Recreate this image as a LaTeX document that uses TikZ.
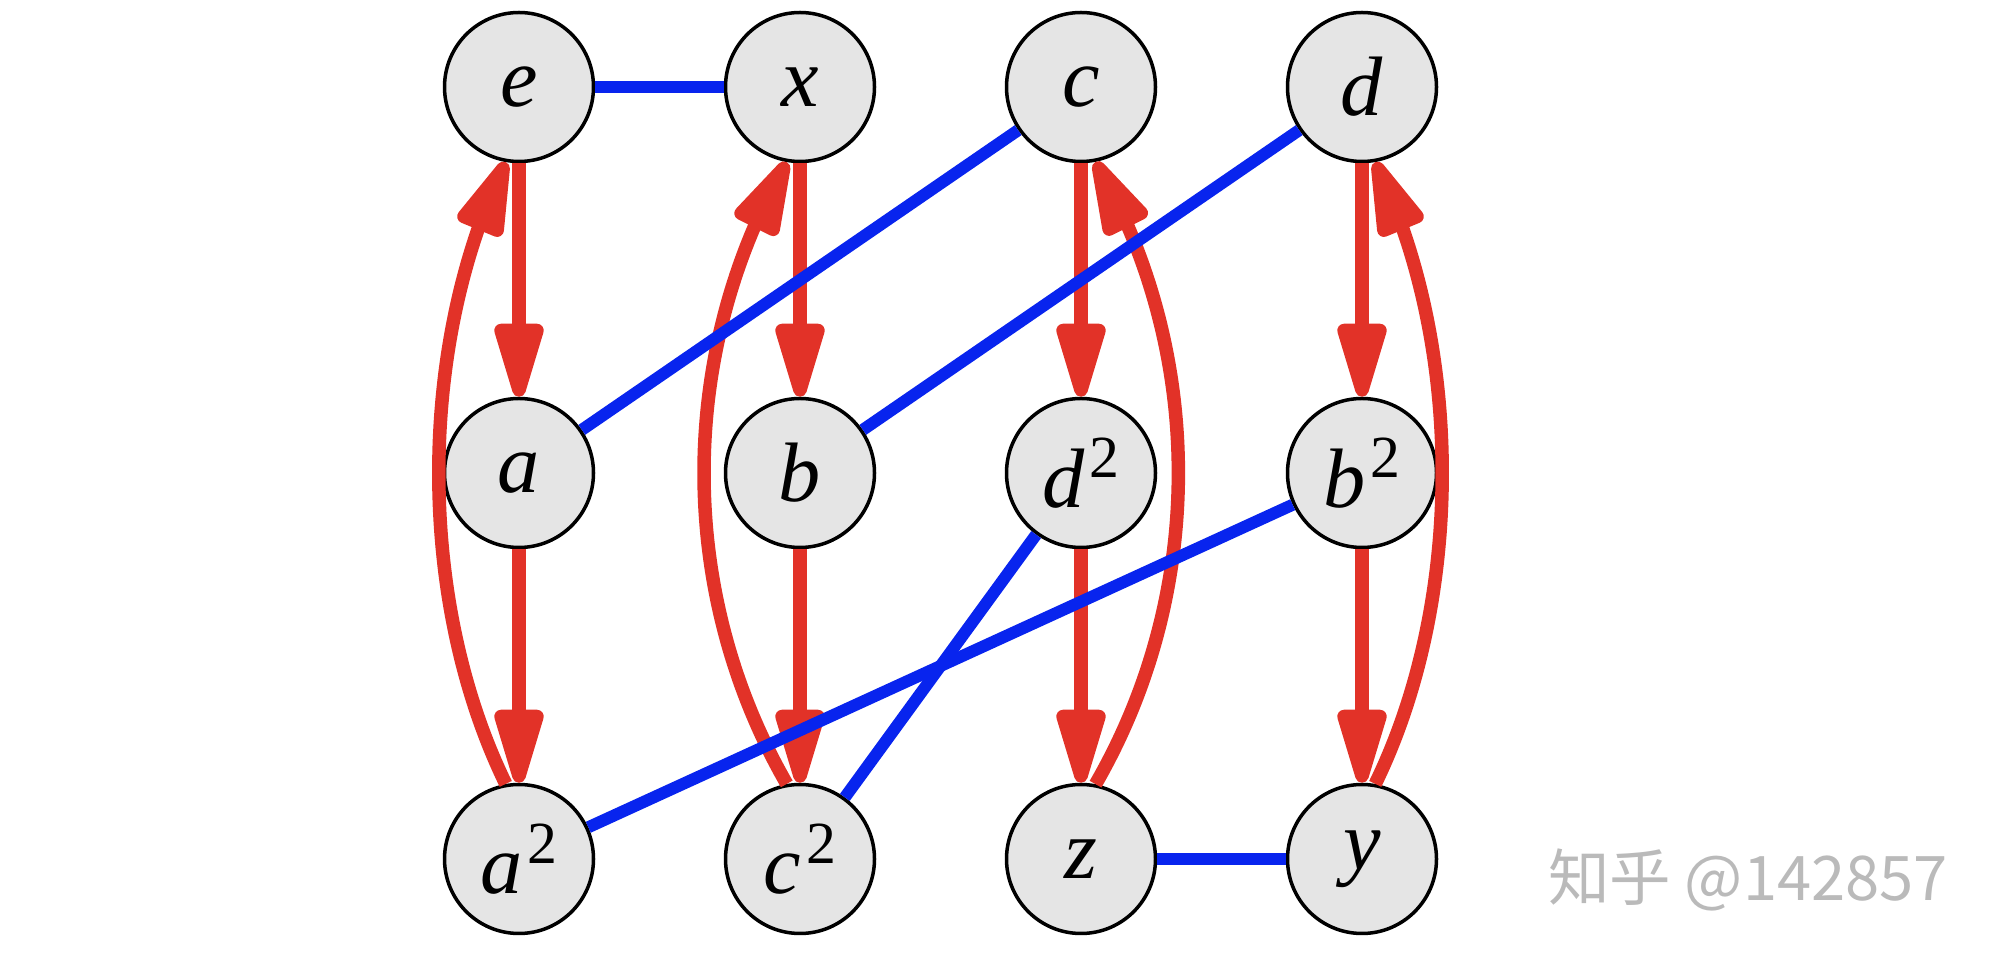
\documentclass[tikz,border=0pt]{standalone}
\usepackage{fontspec}
\setmainfont{Liberation Serif}
\newfontfamily\cjkfont{Noto Sans CJK SC}
\usetikzlibrary{arrows.meta, bending}

\definecolor{edgered}{RGB}{226,50,40}
\definecolor{edgeblue}{RGB}{8,36,238}
\definecolor{markgray}{RGB}{186,186,186}

% letter with a raised square
\newcommand{\sqv}[1]{\textit{#1}\kern1.5pt\raisebox{0.30cm}{\fontsize{17}{17}\selectfont 2}}

\begin{document}
\begin{tikzpicture}[
  vertex/.style={draw, circle, line width=0.035cm, fill=gray!20, minimum size=1.49cm, inner sep=0pt, font=\fontsize{24}{28}\selectfont},
  arrowR/.style={edgered, line width=0.135cm, -{Triangle[length=0.92cm, width=0.5cm, round, flex]}},
  lineB/.style={edgeblue, line width=0.12cm},
  wmark/.style={text=markgray, font=\cjkfont\fontsize{17.5}{20}\selectfont}
]
\useasboundingbox (0,0) rectangle (19.94,-9.62);

% top row
\node[vertex] (e) at (5.19,-0.87) {\textit{e}};
\node[vertex] (x) at (8.00,-0.87) {\textit{x}};
\node[vertex] (c) at (10.81,-0.87) {\textit{c}};
\node[vertex] (d) at (13.62,-0.87) {\textit{d}};

% middle row
\node[vertex] (a) at (5.19,-4.73) {\textit{a}};
\node[vertex] (b) at (8.00,-4.73) {\textit{b}};
\node[vertex] (d2) at (10.81,-4.73) {\sqv{d}};
\node[vertex] (b2) at (13.62,-4.73) {\sqv{b}};

% bottom row
\node[vertex] (a2) at (5.19,-8.59) {\sqv{a}};
\node[vertex] (c2) at (8.00,-8.59) {\sqv{c}};
\node[vertex] (z) at (10.81,-8.59) {\textit{z}};
\node[vertex] (y) at (13.62,-8.59) {\textit{y}};

% downward arrows
\draw[arrowR] (e) -- (a);
\draw[arrowR] (a) -- (a2);
\draw[arrowR] (x) -- (b);
\draw[arrowR] (b) -- (c2);
\draw[arrowR] (c) -- (d2);
\draw[arrowR] (d2) -- (z);
\draw[arrowR] (d) -- (b2);
\draw[arrowR] (b2) -- (y);

% back arrows
\draw[arrowR] (a2.100) to[bend left=26, looseness=0.84] (e.260);
\draw[arrowR] (c2.100) to[bend left=30, looseness=0.91] (x.260);
\draw[arrowR] (z.79) to[bend right=30, looseness=0.91] (c.281);
\draw[arrowR] (y.80) to[bend right=26, looseness=0.84] (d.280);

% blue links
\draw[lineB] (e) -- (x);
\draw[lineB] (c) -- (a);
\draw[lineB] (d) -- (b);
\draw[lineB] (b2) -- (a2);
\draw[lineB] (d2) -- (c2);
\draw[lineB] (z) -- (y);

\node[wmark] (logo) at (17.48,-8.80) {知乎 @142857};
\end{tikzpicture}
\end{document}
